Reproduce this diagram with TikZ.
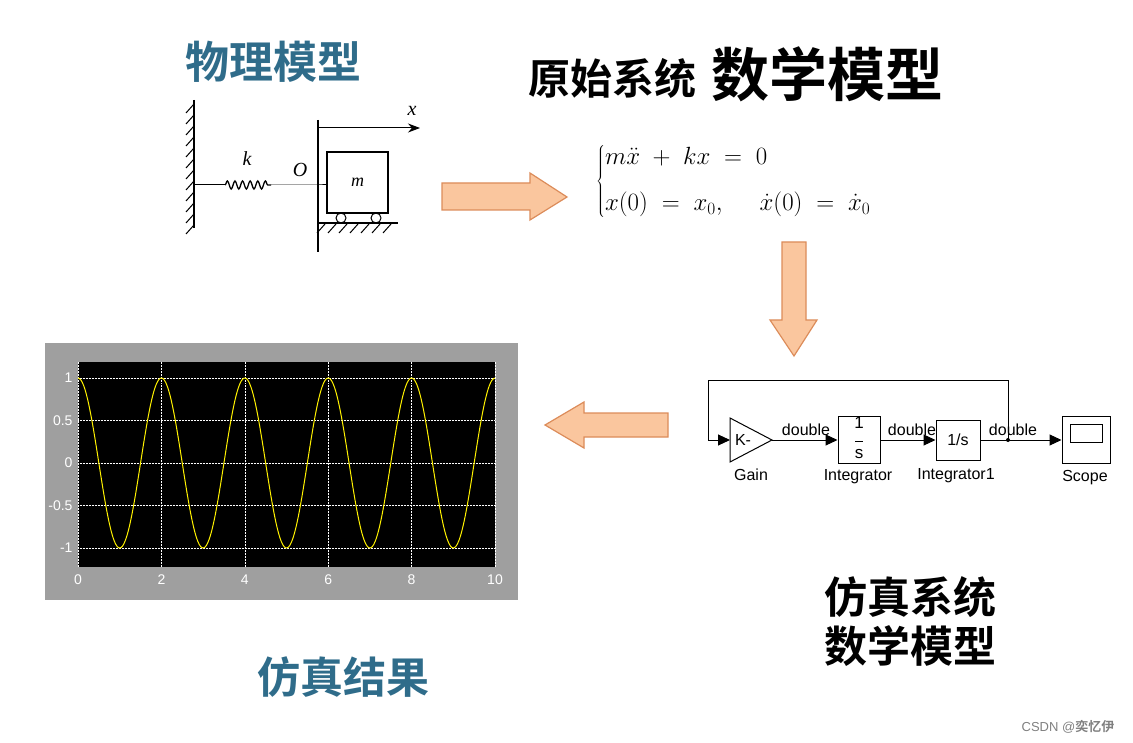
\documentclass[tikz,border=0pt]{standalone}
\usepackage{fontspec}
\newfontfamily\cjk{Noto Sans CJK SC Bold}
\newfontfamily\arial{Liberation Sans}
\setmainfont{Liberation Serif}
\usetikzlibrary{decorations.pathmorphing,arrows.meta}
\definecolor{teal1}{RGB}{47,108,138}
\definecolor{peach}{RGB}{250,198,158}
\definecolor{peachd}{RGB}{220,140,90}
\tikzset{bigarrow/.style={fill=peach,draw=peachd,line width=1.2pt},
  blk/.style={draw,line width=1pt,fill=white},
  sig/.style={-{Triangle[length=12pt,width=11pt]},line width=1pt},
  lab/.style={font=\arial\fontsize{16}{16}\selectfont},
  hatch/.style={line width=1pt}}
\begin{document}
\begin{tikzpicture}[x=1pt,y=-1pt]
\useasboundingbox (0,0) rectangle (1133,743);
% titles
\node[teal1,font=\cjk\fontsize{44}{44}\selectfont] (t1) at (273,62) {物理模型};
\node[font=\cjk\fontsize{42}{42}\selectfont,anchor=east] (t2) at (700,78) {原始系统};
\node[font=\cjk\fontsize{58}{58}\selectfont,anchor=west] (t3) at (708,74) {数学模型};
\node[font=\cjk\fontsize{43}{43}\selectfont,align=center] (t4) at (910,622) {仿真系统\\[6pt]数学模型};
\node[teal1,font=\cjk\fontsize{43}{43}\selectfont] (t5) at (343,677) {仿真结果};
\node[gray,font=\fontsize{13}{13}\selectfont\cjk] (csdn) at (1068,727) {\arial CSDN @\cjk 奕忆伊};
% physical model
\draw[line width=2pt] (194,100) -- (194,228);
\foreach \y in {104,115,...,226} \draw[hatch] (194,\y) -- (186,\y+9);
\coordinate (w) at (194,185);
\coordinate (s1) at (225,185);
\coordinate (s2) at (271,185);
\coordinate (wall) at (318,185);
\draw[line width=1pt] (w) -- (s1);
\draw[line width=1.3pt,decorate,decoration={snake,segment length=7.6pt,amplitude=4pt}] (s1) -- (s2);
\draw[line width=1pt] (s2) -- (wall) -- (327,185);
\draw[line width=1.5pt] (318,120) -- (318,252);
\draw[-{Stealth[length=12pt,width=9pt]},line width=1pt] (318,128) -- (420,128);
\node[font=\itshape\fontsize{20}{20}\selectfont] (xl) at (412,111) {x};
\node[font=\itshape\fontsize{20}{20}\selectfont] (Ol) at (300,170) {O};
\node[font=\itshape\fontsize{20}{20}\selectfont] (kl) at (247,159) {k};
\node[draw,line width=1.3pt,minimum width=61pt,minimum height=61pt,inner sep=0pt] (m) at (357.5,182.5) {\itshape\fontsize{18}{18}\selectfont m};
\draw[line width=1pt] (341,218) circle (5) (376,218) circle (5);
\draw[line width=2pt] (318,223.5) -- (398,223.5);
\foreach \x in {325,336,...,395} \draw[hatch] (\x,224) -- (\x-8,233);
% big arrows
\draw[bigarrow] (442,183) -- (530,183) -- (530,173) -- (567,197) -- (530,220) -- (530,210) -- (442,210) -- cycle;
\draw[bigarrow] (782,242) -- (806,242) -- (806,320) -- (817,320) -- (794,356) -- (770,320) -- (782,320) -- cycle;
\draw[bigarrow] (668,413) -- (584,413) -- (584,402) -- (545,425) -- (584,448) -- (584,437) -- (668,437) -- cycle;
% equations
\node[anchor=west,font=\fontsize{26}{30}\selectfont,inner sep=0pt] (eqs) at (596,182) {$\left\{\begin{array}{@{}l@{}}
m\ddot x \;+\; kx \;=\; 0\\[16pt]
x(0) \;=\; x_0,\quad\; \dot x(0) \;=\; \dot x_0
\end{array}\right.$};
% simulink
\coordinate (gin) at (730,440);
\draw[line width=1pt] (730,418) -- (772,440) -- (730,462) -- cycle;
\node[font=\arial\fontsize{16}{16}\selectfont] (gk) at (743,440) {K-};
\coordinate (gout) at (772,440);
\node[blk,minimum width=42pt,minimum height=44pt,inner sep=0pt,font=\arial\fontsize{17}{17}\selectfont] (int) at (859,440) {\begin{tabular}{@{}c@{}}1\\[-3pt]\rule{8pt}{1pt}\\[-1pt]s\end{tabular}};
\node[blk,minimum width=44pt,minimum height=40pt,inner sep=0pt,font=\arial\fontsize{16}{16}\selectfont] (int1) at (958,440) {1/s};
\node[blk,minimum width=48pt,minimum height=47pt] (scope) at (1086,440) {};
\draw[line width=1pt] (1070,424) rectangle (1102,442);
\coordinate (br) at (1008,440);
\draw[sig] (gout) -- (int.west);
\draw[sig] (int.east) -- (int1.west);
\draw[sig] (int1.east) -- (scope.west);
\fill (br) circle (2);
\draw[sig] (br) -- (1008,381) -- (708,381) -- (708,440) -- (gin);
\node[lab,anchor=south] (d1) at (806,439) {double};
\node[lab,anchor=south] (d2) at (912,439) {double};
\node[lab,anchor=south] (d3) at (1013,439) {double};
\node[lab] (lg) at (751,475) {Gain};
\node[lab] (li) at (858,477) {Integrator};
\node[lab] (li1) at (956,476) {Integrator1};
\node[lab] (ls) at (1085,478) {Scope};
% plot
\fill[gray!75] (45,343) rectangle (518,600);
\fill[black] (78,362) rectangle (495,567);
\foreach \i in {0,...,5} {
  \draw[white,densely dotted,line width=0.5pt] (78+83.4*\i,362) -- (78+83.4*\i,567);
  \node[white,font=\arial\fontsize{14}{14}\selectfont] at (78+83.4*\i,580) {\number\numexpr 2*\i\relax};}
\foreach \v/\lbl in {1/1,0.5/0.5,0/0,-0.5/-0.5,-1/-1} {
  \draw[white,densely dotted,line width=0.5pt] (78,463-85*\v) -- (495,463-85*\v);
  \node[white,anchor=east,font=\arial\fontsize{14}{14}\selectfont] at (76,463-85*\v) {\lbl};}
\draw[yellow,line width=1pt,domain=0:10,samples=300,smooth] plot ({78+41.7*\x},{463-85*cos(180*\x)});
\end{tikzpicture}
\end{document}
